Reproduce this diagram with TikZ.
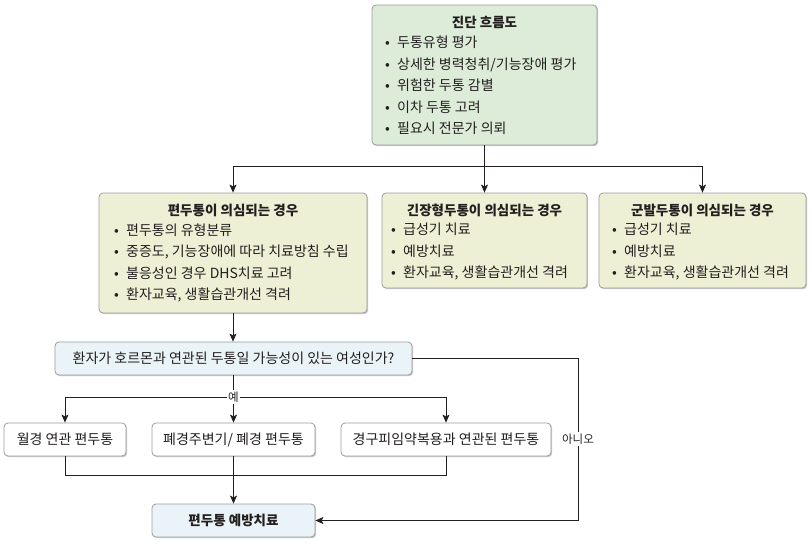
\documentclass[tikz,border=0pt]{standalone}
\usepackage{fontspec}
\setmainfont{Noto Sans CJK KR}
\usetikzlibrary{arrows.meta,shadows}

\definecolor{ink}{RGB}{35,31,32}
\definecolor{edge}{RGB}{155,155,155}
\definecolor{sage}{RGB}{221,235,217}
\definecolor{olive}{RGB}{238,240,213}
\definecolor{ice}{RGB}{234,244,248}

\newcommand{\bulletmark}{\makebox[12pt][l]{\textbullet}}

\begin{document}
\begin{tikzpicture}[x=1pt, y=-1pt,
    box/.style={draw=edge, line width=0.8pt, rounded corners=4pt, inner sep=0pt,
                font=\fontsize{14}{16}\selectfont, text=ink,
                drop shadow={shadow xshift=1.2pt, shadow yshift=-1.2pt, fill=black!35, opacity=0.6}},
    title/.style={font=\fontsize{13.5}{16}\selectfont\bfseries, text=ink, inner sep=0pt},
    list/.style={font=\fontsize{14}{21.5}\selectfont, text=ink, align=left, inner sep=0pt, anchor=west},
    link/.style={draw=ink, line width=0.8pt, -{Stealth[length=8pt,width=7pt,inset=1.8pt]}},
    tag/.style={font=\fontsize{11.5}{13}\selectfont, text=ink, fill=white, inner sep=1.5pt},
]
\useasboundingbox (0,0) rectangle (812,544);

% diagnostic steps
\node[box, fill=sage, minimum width=225pt, minimum height=140pt] (diag) at (484.5,75) {};
\node[title] (diagtitle) at (484.5,22) {진단 흐름도};
\node[list] (diaglist) at (385,85.5) {\bulletmark 두통유형 평가\\
  \bulletmark 상세한 병력청취/기능장애 평가\\
  \bulletmark 위험한 두통 감별\\
  \bulletmark 이차 두통 고려\\
  \bulletmark 필요시 전문가 의뢰};

% three suspected types
\node[box, fill=olive, minimum width=268pt, minimum height=120pt] (migraine) at (233,253) {};
\node[title] (migrainetitle) at (233,210) {편두통이 의심되는 경우};
\node[list] (migrainelist) at (114,263) {\bulletmark 편두통의 유형분류\\
  \bulletmark 중증도, 기능장애에 따라 치료방침 수립\\
  \bulletmark 불응성인 경우 DHS치료 고려\\
  \bulletmark 환자교육, 생활습관개선 격려};

\node[box, fill=olive, minimum width=205pt, minimum height=95pt] (tension) at (484.5,240.5) {};
\node[title] (tensiontitle) at (484.5,210) {긴장형두통이 의심되는 경우};
\node[list] (tensionlist) at (391,252) {\bulletmark 급성기 치료\\
  \bulletmark 예방치료\\
  \bulletmark 환자교육, 생활습관개선 격려};

\node[box, fill=olive, minimum width=207pt, minimum height=95pt] (cluster) at (702.5,240.5) {};
\node[title] (clustertitle) at (702.5,210) {군발두통이 의심되는 경우};
\node[list] (clusterlist) at (612,252) {\bulletmark 급성기 치료\\
  \bulletmark 예방치료\\
  \bulletmark 환자교육, 생활습관개선 격려};

% hormone question
\node[box, fill=ice, minimum width=357pt, minimum height=33pt] (ask) at (233.5,358.5)
  {환자가 호르몬과 연관된 두통일 가능성이 있는 여성인가?};

\node[box, fill=white, minimum width=122pt, minimum height=33pt] (menses) at (65,439.5) {월경 연관 편두통};
\node[box, fill=white, minimum width=163pt, minimum height=33pt] (meno) at (233.5,439.5) {폐경주변기/ 폐경 편두통};
\node[box, fill=white, minimum width=210pt, minimum height=33pt] (pill) at (446,439.5) {경구피임약복용과 연관된 편두통};

\node[box, fill=ice, minimum width=163pt, minimum height=33pt, font=\fontsize{13.5}{16}\selectfont\bfseries] (prevent) at (233.5,520.5) {편두통 예방치료};

\coordinate (split) at (484.5,166);
\coordinate (fork) at (233.5,397);
\coordinate (join) at (233.5,475);
\coordinate (turn) at (578,358.5);

% connectors
\draw[link] (diag.south) -- (tension.north);
\draw[link] (split) -| (migraine.north);
\draw[link] (split) -| (cluster.north);
\draw[link] (migraine.south) -- (migraine.south |- ask.north);
\draw[link] (ask.south) -- (meno.north);
\draw[link] (fork) -| (menses.north);
\draw[link] (fork) -| (pill.north);
\node[tag] (yes) at (fork) {예};
\draw[draw=ink, line width=0.8pt] (menses.south) |- (join);
\draw[draw=ink, line width=0.8pt] (pill.south) |- (join);
\draw[link] (meno.south) -- (prevent.north);
\draw[link] (ask.east) -- (turn) |- (prevent.east);
\node[tag] (no) at (578,439) {아니오};
\end{tikzpicture}
\end{document}
